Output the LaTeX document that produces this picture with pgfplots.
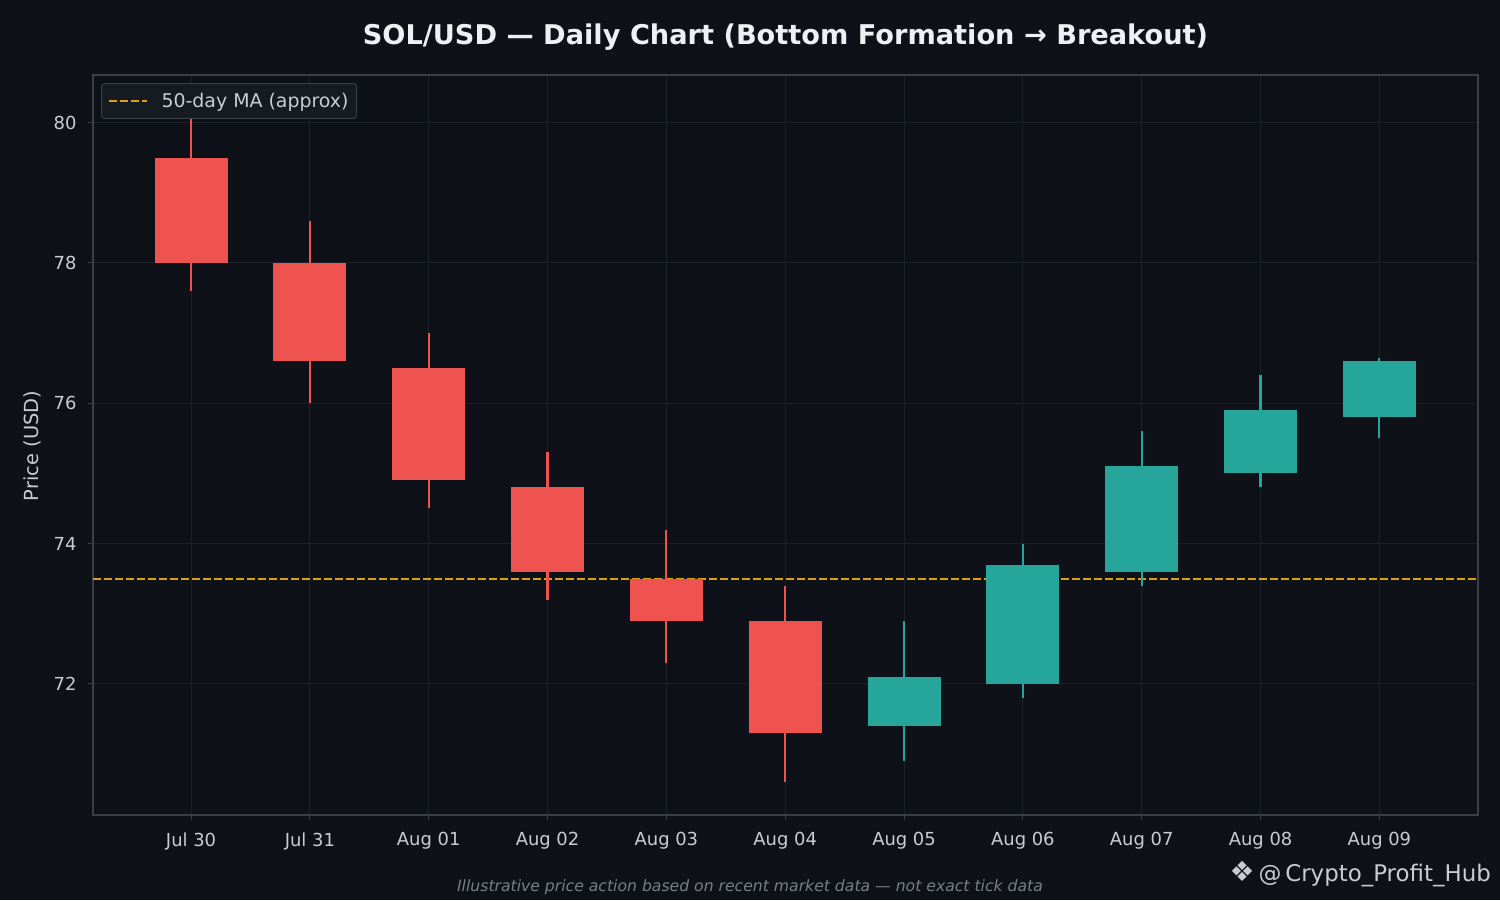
\documentclass[border=0pt]{standalone}
\usepackage{fontspec}
\setmainfont{DejaVu Sans}
\newfontfamily\symfont{DejaVu Sans}
\usepackage{pgfplots}
\pgfplotsset{compat=1.18}
\definecolor{bg}{HTML}{0E1117}
\definecolor{gridc}{HTML}{1D2129}
\definecolor{framec}{HTML}{3A3E45}
\definecolor{tickc}{HTML}{C9CDD3}
\definecolor{upc}{HTML}{26A69A}
\definecolor{downc}{HTML}{EF5350}
\definecolor{mac}{HTML}{D9A011}
\definecolor{legbg}{HTML}{161A21}
\definecolor{footc}{HTML}{7A7F87}
\definecolor{titlec}{HTML}{EEF0F3}
\begin{document}
\begin{tikzpicture}[x=1bp,y=1bp]
\fill[bg] (0,0) rectangle (1500,900);
\useasboundingbox (0,0) rectangle (1500,900);
\begin{axis}[
  at={(93bp,85bp)}, anchor=south west,
  scale only axis, width=1385bp, height=740bp,
  xmin=-0.825, xmax=10.83, ymin=70.13, ymax=80.68,
  xtick={0,1,2,3,4,5,6,7,8,9,10},
  xticklabels={Jul 30,Jul 31,Aug 01,Aug 02,Aug 03,Aug 04,Aug 05,Aug 06,Aug 07,Aug 08,Aug 09},
  ytick={72,74,76,78,80},
  tick pos=left,
  /pgf/number format/assume math mode=true,
  ticklabel style={font=\fontsize{18}{20}\selectfont, text=tickc},
  xticklabel style={yshift=-9bp},
  yticklabel style={xshift=-8bp},
  tick align=outside, major tick length=5bp,
  tick style={draw=framec, line width=1bp},
  axis line style={draw=framec, line width=1.2bp},
  grid=major, major grid style={draw=gridc, line width=1bp},
  unbounded coords=jump,
  legend style={at={(0.0058,0.989)}, anchor=north west, fill=legbg, draw=framec, line width=1bp,
    rounded corners=3bp, text=tickc, font=\fontsize{19}{21}\selectfont, inner xsep=6bp, inner ysep=7.5bp},
  legend image code/.code={\draw[#1] (0bp,0bp) -- (38bp,0bp);},
  legend cell align=left,
]
\addplot[mac, line width=2bp, dash pattern=on 8bp off 3bp] coordinates {(-0.825,73.5) (10.83,73.5)};
\addlegendentry{\hspace{12bp}50-day MA (approx)}
% wicks (low to high)
\addplot[downc, line width=2.2bp, forget plot] coordinates {
 (0,77.6) (0,80.2) (0,nan)
 (1,76.0) (1,78.6) (1,nan)
 (2,74.5) (2,77.0) (2,nan)
 (3,73.2) (3,75.3) (3,nan)
 (4,72.3) (4,74.2) (4,nan)
 (5,70.6) (5,73.4)};
\addplot[upc, line width=2.2bp, forget plot] coordinates {
 (6,70.9) (6,72.9) (6,nan)
 (7,71.8) (7,74.0) (7,nan)
 (8,73.4) (8,75.6) (8,nan)
 (9,74.8) (9,76.4) (9,nan)
 (10,75.5) (10,76.65)};
% bodies (open to close)
\addplot[downc, line width=73bp, line cap=butt, forget plot] coordinates {
 (0,79.5) (0,78.0) (0,nan)
 (1,78.0) (1,76.6) (1,nan)
 (2,76.5) (2,74.9) (2,nan)
 (3,74.8) (3,73.6) (3,nan)
 (4,73.5) (4,72.9) (4,nan)
 (5,72.9) (5,71.3)};
\addplot[upc, line width=73bp, line cap=butt, forget plot] coordinates {
 (6,71.4) (6,72.1) (6,nan)
 (7,72.0) (7,73.7) (7,nan)
 (8,73.6) (8,75.1) (8,nan)
 (9,75.0) (9,75.9) (9,nan)
 (10,75.8) (10,76.6)};
\end{axis}
\node[font=\fontsize{19.5}{22}\selectfont, text=tickc, rotate=90] at (32,454) {Price (USD)};
\node[font=\bfseries\fontsize{27.3}{31}\selectfont, text=titlec] at (785.5,863) {SOL/USD — Daily Chart (Bottom Formation → Breakout)};
\node[font=\itshape\fontsize{15.7}{18}\selectfont, text=footc] at (750,13) {Illustrative price action based on recent market data — not exact tick data};
\node[font=\fontsize{23}{26}\selectfont, text=tickc, anchor=east, inner sep=0pt] at (1491,26) {{\symfont\fontsize{28}{30}\selectfont ❖}\,@\,Crypto\_Profit\_Hub};
\end{tikzpicture}
\end{document}
